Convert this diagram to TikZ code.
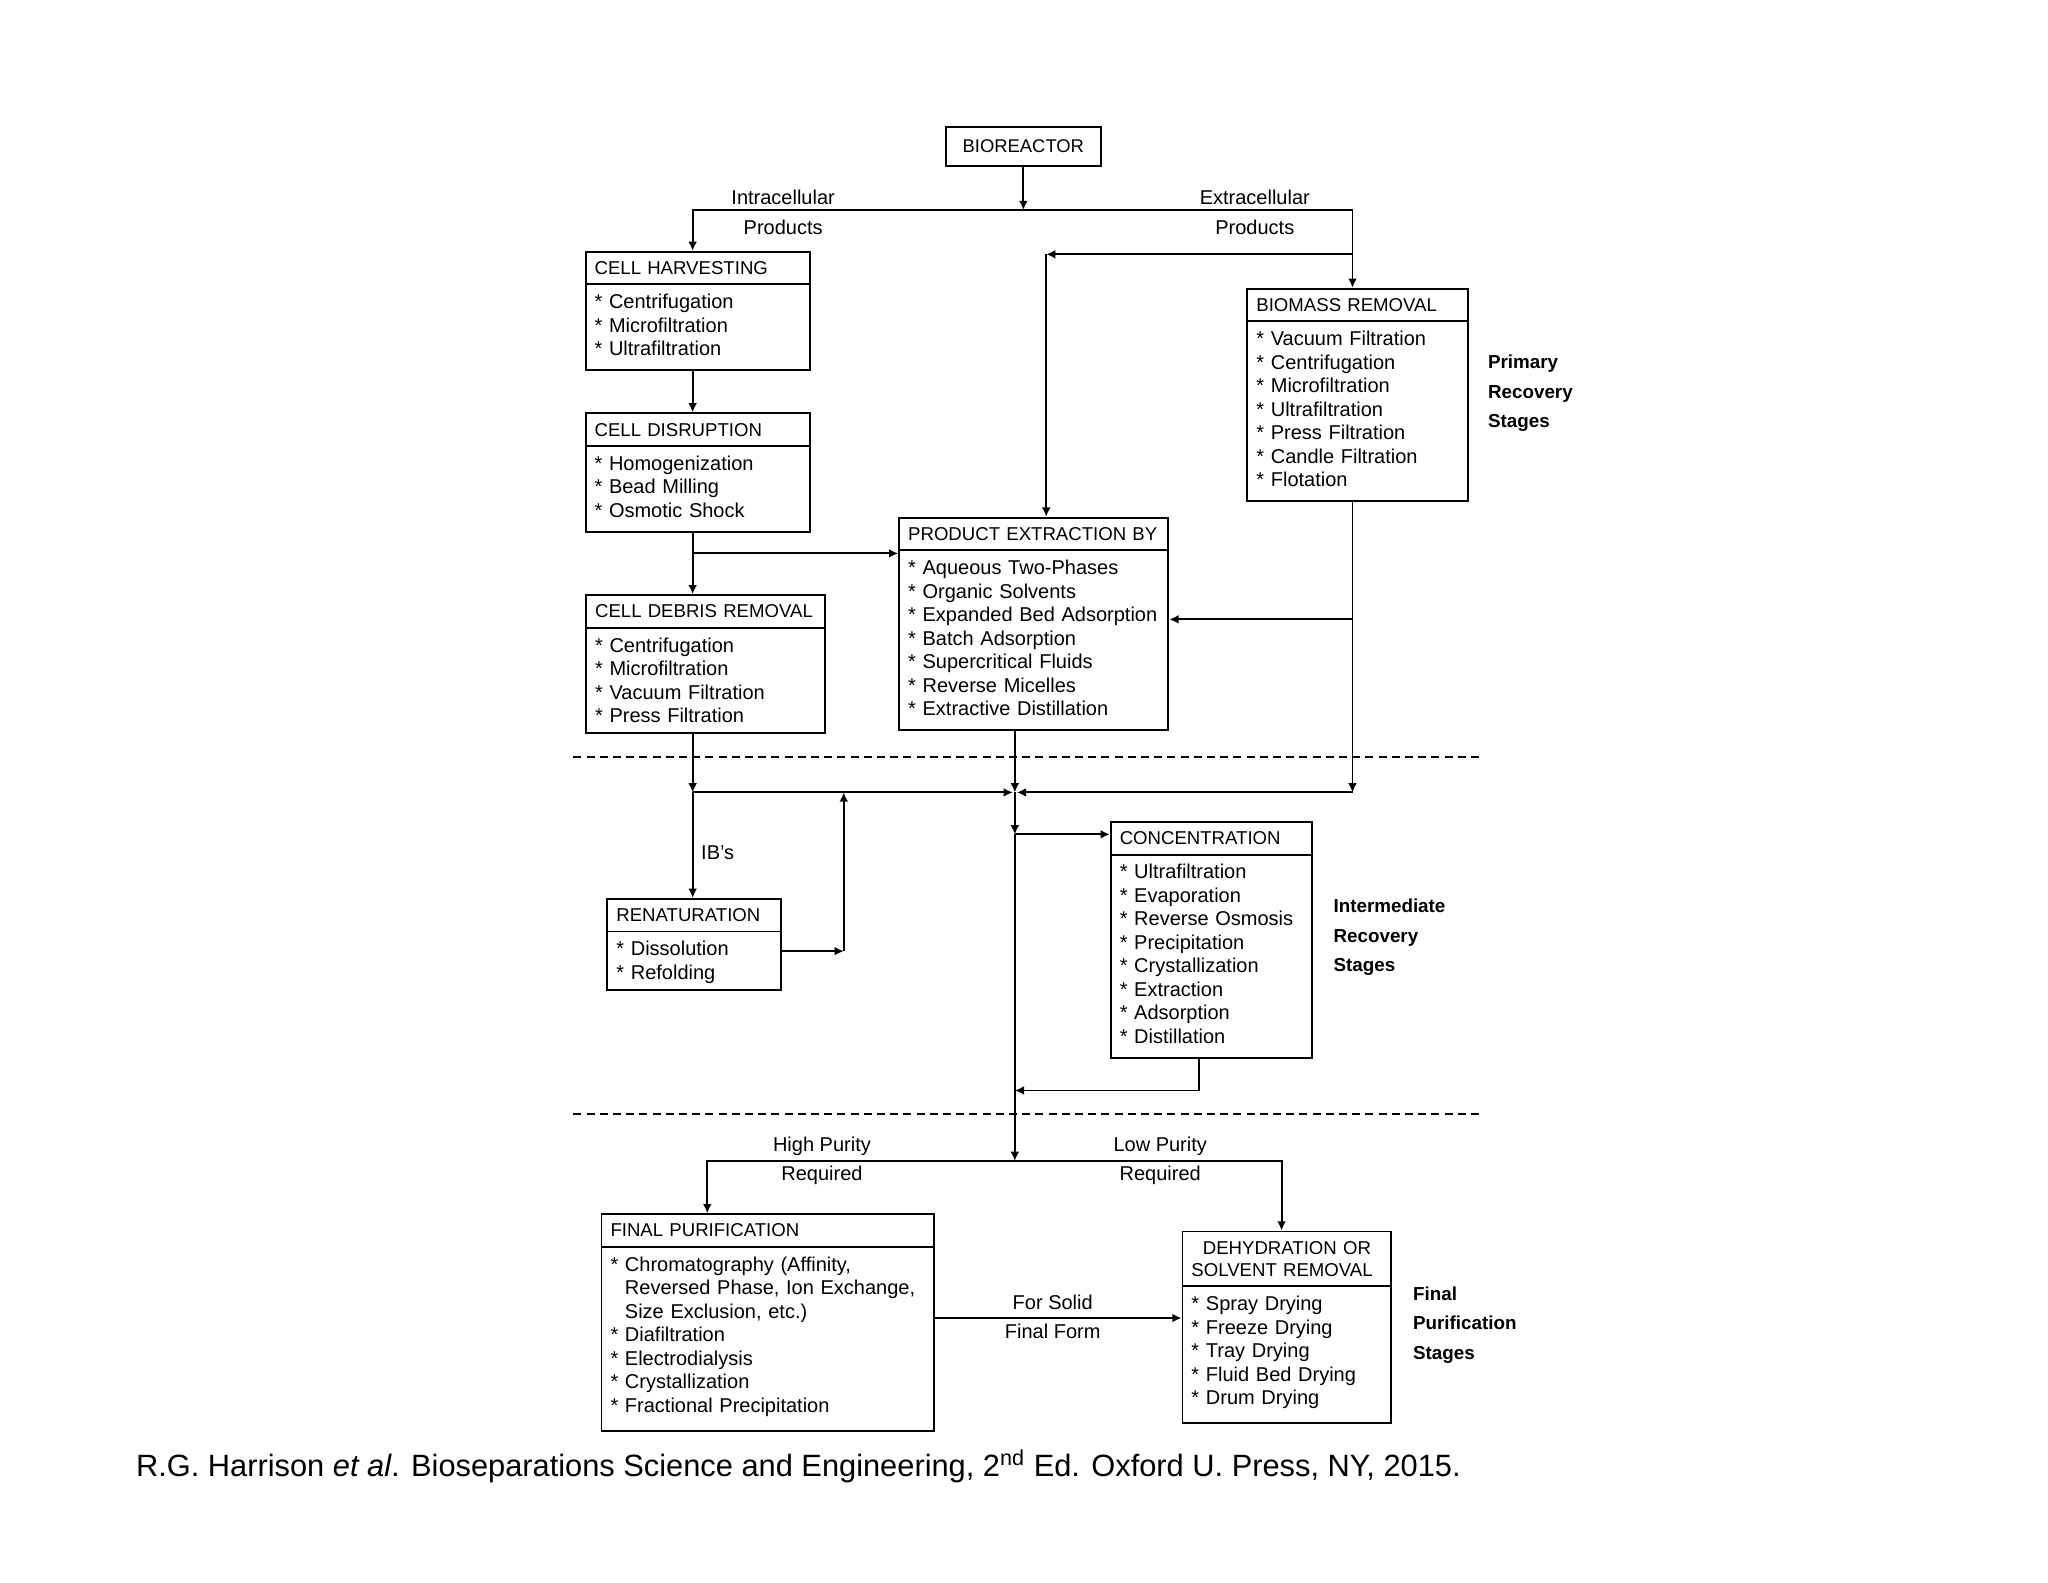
\documentclass[tikz,border=0pt]{standalone}
\usepackage{fontspec}
\setmainfont{Liberation Sans}
\usetikzlibrary{positioning, shapes.multipart, arrows.meta}
\tikzset{stage/.style={font=\bfseries\fontsize{9.4}{14.7}\selectfont, align=left, anchor=west, inner sep=0pt}}

\begin{document}
\begin{tikzpicture}[x=0.653pt, y=-0.653pt, line width=0.95pt,
    >={Latex[length=4.6pt,width=4.4pt]},
    %Style
    box/.style={draw, rectangle split, rectangle split parts=2, anchor=north west,
      align=left, inner xsep=4.5pt, inner ysep=4.4pt,
      every text node part/.style={font=\fontsize{9.3}{11.1}\selectfont},
      every two node part/.style={font=\fontsize{10}{11.75}\selectfont,
        execute at end node={\endgraf\vspace*{#1}}}},
    box/.default=2.4pt,
    flow text/.style={font=\fontsize{10}{12}\selectfont, inner sep=0pt},
    stage line/.style={dash pattern=on 4pt off 2.6pt}]
    \useasboundingbox (0,0) rectangle (1568,1211.3);

    %Boxes
    \node[draw, minimum width=77.7pt, minimum height=19.6pt, inner sep=0pt,
      font=\fontsize{9.2}{11}\selectfont] (bio) at (783.5,112) {BIOREACTOR};

    \node[box, text width=103pt] (harvest) at (447.6,192)
      {CELL HARVESTING\nodepart{two}* Centrifugation\par* Microfiltration\par* Ultrafiltration};
    \node[box, text width=103pt] (disrupt) at (447.6,315.7)
      {CELL DISRUPTION\nodepart{two}* Homogenization\par* Bead Milling\par* Osmotic Shock};
    \node[box=0pt, text width=110.5pt] (debris) at (448,455)
      {CELL DEBRIS REMOVAL\nodepart{two}* Centrifugation\par* Microfiltration\par* Vacuum Filtration\par* Press Filtration};
    \node[box, text width=125.6pt] (extract) at (687.7,395.6)
      {PRODUCT EXTRACTION BY\nodepart{two}* Aqueous Two-Phases\par* Organic Solvents\par* Expanded Bed Adsorption\par* Batch Adsorption\par* Supercritical Fluids\par* Reverse Micelles\par* Extractive Distillation};
    \node[box, text width=101.4pt] (biomass) at (954.3,220.3)
      {BIOMASS REMOVAL\nodepart{two}* Vacuum Filtration\par* Centrifugation\par* Microfiltration\par* Ultrafiltration\par* Press Filtration\par* Candle Filtration\par* Flotation};
    \node[box=-1.5pt, text width=77.6pt] (renat) at (464.3,687.4)
      {RENATURATION\nodepart{two}* Dissolution\par* Refolding};
    \node[box, text width=91.5pt] (conc) at (849.7,628.6)
      {CONCENTRATION\nodepart{two}* Ultrafiltration\par* Evaporation\par* Reverse Osmosis\par* Precipitation\par* Crystallization\par* Extraction\par* Adsorption\par* Distillation};
    \node[box, text width=157.1pt] (final) at (459.8,928.9)
      {FINAL PURIFICATION\nodepart{two}* Chromatography (Affinity,\newline\hphantom{* }Reversed Phase, Ion Exchange,\newline\hphantom{* }Size Exclusion, etc.)\par* Diafiltration\par* Electrodialysis\par* Crystallization\par* Fractional Precipitation};
    \node[box, text width=95.4pt] (dehyd) at (904.6,942.1)
      {\centering DEHYDRATION OR\\SOLVENT REMOVAL\nodepart{two}* Spray Drying\par* Freeze Drying\par* Tray Drying\par* Fluid Bed Drying\par* Drum Drying};

    %Junctions
    \coordinate (intra) at (530.3,160.8);
    \coordinate (extra) at (1035.5,160.8);
    \coordinate (ext in) at (801,194.7);
    \coordinate (to ext) at (530.3,423.7);
    \coordinate (join) at (777,606.7);
    \coordinate (ren up) at (646,728.2);
    \coordinate (conc in) at (777,638.8);
    \coordinate (conc back) at (917.8,834.9);
    \coordinate (purity) at (777,888.8);
    \coordinate (hp) at (541.5,888.8);
    \coordinate (lp) at (981.2,888.8);
    \coordinate (solid) at (714,1009.1);

    %Primary recovery
    \draw[->] (bio.south) -- (bio.south |- intra);
    \draw[<->] (intra |- harvest.north) -- (intra) -- (extra) -- (extra |- biomass.north);
    \node[flow text] (intra top) at (599.6,151) {Intracellular};
    \node[flow text] (intra bot) at (599.6,174.3) {Products};
    \node[flow text] (extra top) at (960.7,151) {Extracellular};
    \node[flow text] (extra bot) at (960.7,174.3) {Products};
    \draw[->] (extra |- ext in) -- (ext in);
    \draw[->] (ext in) -- (ext in |- extract.north);
    \draw[->] (intra |- harvest.south) -- (intra |- disrupt.north);
    \draw[->] (intra |- disrupt.south) -- (intra |- debris.north);
    \draw[->] (to ext) -- (to ext -| extract.west);
    \draw[->] (extra |- biomass.south) -- (extra |- join);
    \draw[->] (extra |- 0,474.2) -- (extract.east |- 0,474.2);

    \draw[stage line] (439,579.6) -- (1132,579.6);
    \draw[stage line] (439,853.2) -- (1132,853.2);

    %Intermediate recovery
    \draw[->] (intra |- debris.south) -- (intra |- join);
    \draw[->] (intra |- join) -- ([xshift=-1pt]join);
    \draw[->] (extra |- join) -- ([xshift=1pt]join);
    \draw[->] (join |- extract.south) -- (join);
    \draw[->] (intra |- join) -- (intra |- renat.north);
    \node[flow text] (ibs) at (549.5,652.6) {IB's};
    \draw[->] (renat.east |- ren up) -- (ren up);
    \draw[->] (ren up) -- (ren up |- join);
    \draw[->] (join) -- (conc in);
    \draw[->] (conc in) -- (conc in -| conc.west);
    \draw[->] (conc back |- conc.south) -- (conc back) -- (conc back -| join);
    \draw[->] (conc in) -- (purity);

    %Final purification
    \draw[<->] (hp |- final.north) -- (hp) -- (lp) -- (lp |- dehyd.north);
    \node[flow text] (high top) at (629.3,877.8) {High Purity};
    \node[flow text] (high bot) at (629.3,900.2) {Required};
    \node[flow text] (low top) at (888.3,877.8) {Low Purity};
    \node[flow text] (low bot) at (888.3,900.2) {Required};
    \draw[->] (final.east |- solid) -- (dehyd.west |- solid);
    \node[flow text] (solid top) at (806,996.8) {For Solid};
    \node[flow text] (solid bot) at (806,1019.4) {Final Form};

    %Stages
    \node[stage] (primary) at (1138.6,301.2) {Primary\\Recovery\\Stages};
    \node[stage] (intermediate) at (1020.3,717.8) {Intermediate\\Recovery\\Stages};
    \node[stage] (finalstage) at (1081.2,1014.5) {Final\\Purification\\Stages};

    \node[anchor=base west, inner sep=0pt, font=\fontsize{15.4}{18}\selectfont] (cite) at (103.5,1130.2)
      {R.G. Harrison \textit{et al}. Bioseparations Science and Engineering, 2\textsuperscript{nd} Ed. Oxford U. Press, NY, 2015.};
\end{tikzpicture}
\end{document}
